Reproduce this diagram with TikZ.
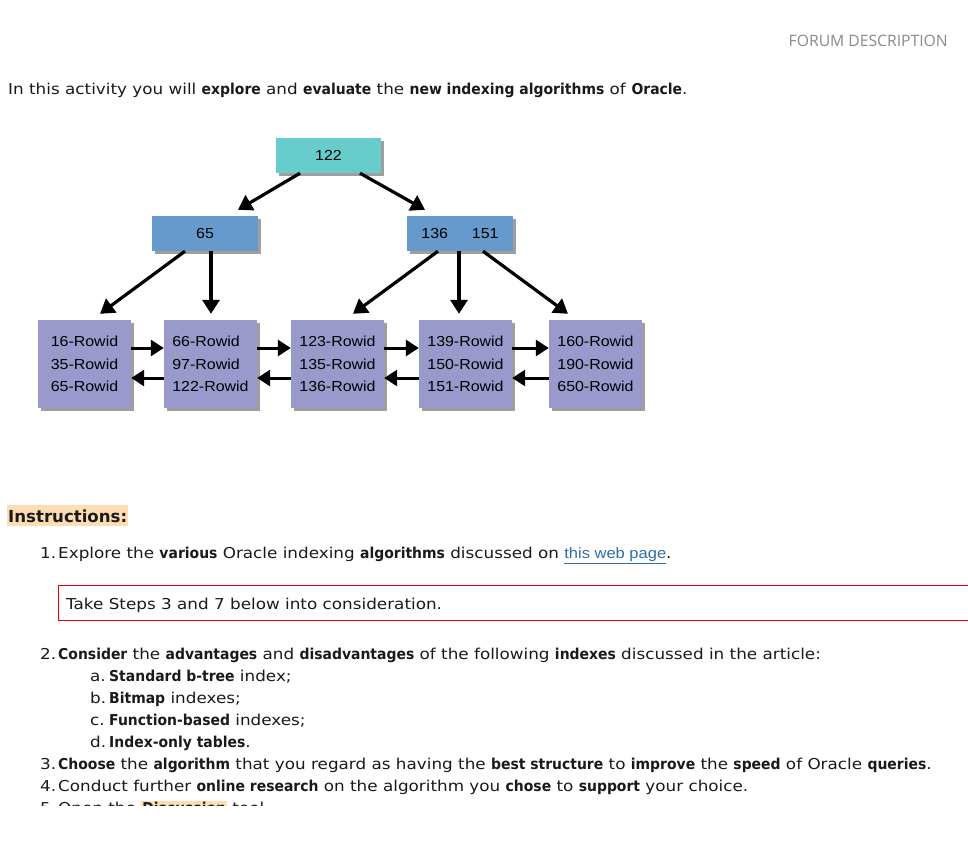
\documentclass[tikz,border=0pt]{standalone}
\usepackage{fontspec}
\setmainfont{DejaVu Sans}[UprightFeatures={FakeStretch=1.12}, BoldFeatures={FakeStretch=0.93}]
\newfontfamily\instrf{DejaVu Sans Bold}
\newfontfamily\arialf{Liberation Sans}[FakeStretch=1.1]
\newfontfamily\osans{Open Sans}
\usetikzlibrary{arrows.meta,shadows}
\definecolor{tealbox}{HTML}{66CCCC}
\definecolor{bluebox}{HTML}{6699CC}
\definecolor{leafbox}{HTML}{9999CC}
\definecolor{peach}{HTML}{FFDDB3}
\definecolor{textc}{HTML}{1A1A1A}
\definecolor{linkc}{HTML}{2F6EA8}
\definecolor{redline}{HTML}{E60000}
\definecolor{headgray}{HTML}{8A8A8A}
\begin{document}
\begin{tikzpicture}[x=1pt,y=-1pt,
  txt/.style={anchor=base west, inner sep=0pt, font=\fontsize{15}{18}\selectfont, text=textc},
  boxbase/.style={draw=none, inner sep=0pt, font=\arialf\fontsize{14.5}{17}\selectfont, text=black,
    drop shadow={shadow xshift=3pt, shadow yshift=-3pt, fill=black, opacity=0.38}},
  topbox/.style={boxbase, fill=tealbox, minimum width=105pt, minimum height=35pt},
  midbox/.style={boxbase, fill=bluebox, minimum width=106pt, minimum height=35pt},
  leaf/.style={boxbase, fill=leafbox, minimum width=93pt, minimum height=88pt, align=left,
    font=\arialf\fontsize{14.5}{22.5}\selectfont},
  arr/.style={line width=3.2pt, -{Triangle[length=14pt,width=17pt]}},
  harr/.style={line width=3pt, -{Triangle[length=13pt,width=16pt]}}
]
\useasboundingbox[fill=white] (0,0) rectangle (968,864);

% header
\node[anchor=base east, inner sep=0pt, font=\osans\fontsize{15.7}{18}\selectfont, text=headgray] (hdr) at (948,47) {FORUM DESCRIPTION};
\node[txt] (intro) at (8,94.5) {In this activity you will \textbf{explore} and \textbf{evaluate} the \textbf{new indexing algorithms} of \textbf{Oracle}.};

% tree
\node[topbox] (root) at (328.5,155.5) {122};
\node[midbox] (n65) at (205,233.5) {65};
\node[midbox] (n136) at (460,233.5) {136\hspace{24pt}151};
\node[leaf] (l1) at (84.5,364) {16-Rowid\\35-Rowid\\65-Rowid};
\node[leaf] (l2) at (210.5,364) {66-Rowid\\97-Rowid\\122-Rowid};
\node[leaf] (l3) at (337.5,364) {123-Rowid\\135-Rowid\\136-Rowid};
\node[leaf] (l4) at (465.5,364) {139-Rowid\\150-Rowid\\151-Rowid};
\node[leaf] (l5) at (595.5,364) {160-Rowid\\190-Rowid\\650-Rowid};

\draw[arr] ([xshift=-28.5pt]root.south) -- ([xshift=33pt,yshift=6pt]n65.north);
\draw[arr] ([xshift=31.5pt]root.south) -- ([xshift=-35pt,yshift=6pt]n136.north);
\draw[arr] ([xshift=-20pt]n65.south) -- ([xshift=15.5pt,yshift=6pt]l1.north);
\draw[arr] ([xshift=6pt]n65.south) -- ([xshift=0.5pt,yshift=6pt]l2.north);
\draw[arr] ([xshift=-22pt]n136.south) -- ([xshift=15.5pt,yshift=6pt]l3.north);
\draw[arr] ([xshift=-1pt]n136.south) -- ([xshift=-6.5pt,yshift=6pt]l4.north);
\draw[arr] ([xshift=23pt]n136.south) -- ([xshift=-27.5pt,yshift=6pt]l5.north);

\foreach \a/\b in {l1/l2,l2/l3,l3/l4,l4/l5}{
  \draw[harr] ([yshift=16pt]\a.east) -- ([yshift=16pt]\b.west);
  \draw[harr] ([yshift=-14pt]\b.west) -- ([yshift=-14pt]\a.east);
}

% instructions
\node[txt, fill=peach, inner xsep=1pt, inner ysep=4pt, anchor=base west, font=\instrf\fontsize{16.6}{19}\selectfont] (instr) at (7,522) {Instructions:};

\node[txt] (m1) at (40,558.5) {1.};
\node[txt] (s1) at (58,558.5) {Explore the \textbf{various} Oracle indexing \textbf{algorithms} discussed on \textcolor{linkc}{\arialf\underline{this web page}}.};
\draw[redline, line width=1pt] (975,585.5) -- (58.5,585.5) -- (58.5,620.5) -- (975,620.5);
\node[txt] (note) at (66,609.5) {Take Steps 3 and 7 below into consideration.};
\node[txt] (m2) at (40,659.5) {2.};
\node[txt] (s2) at (58,659.5) {\textbf{Consider} the \textbf{advantages} and \textbf{disadvantages} of the following \textbf{indexes} discussed in the article:};
\node[txt] (ma) at (90,681.5) {a.};
\node[txt] (sa) at (109,681.5) {\textbf{Standard b-tree} index;};
\node[txt] (mb) at (90,703.5) {b.};
\node[txt] (sb) at (109,703.5) {\textbf{Bitmap} indexes;};
\node[txt] (mc) at (90,725.5) {c.};
\node[txt] (sc) at (109,725.5) {\textbf{Function-based} indexes;};
\node[txt] (md) at (90,747.5) {d.};
\node[txt] (sd) at (109,747.5) {\textbf{Index-only tables}.};
\node[txt] (m3) at (40,769.5) {3.};
\node[txt] (s3) at (58,769.5) {\textbf{Choose} the \textbf{algorithm} that you regard as having the \textbf{best structure} to \textbf{improve} the \textbf{speed} of Oracle \textbf{queries}.};
\node[txt] (m4) at (40,791.5) {4.};
\node[txt] (s4) at (58,791.5) {Conduct further \textbf{online research} on the algorithm you \textbf{chose} to \textbf{support} your choice.};
\begin{scope}
  \clip (0,0) rectangle (968,805);
  \node[txt] (m5) at (40,813.5) {5.};
  \node[txt] (s5) at (58,813.5) {Open the {\setlength{\fboxsep}{1pt}\colorbox{peach}{\textbf{Discussion}}} tool.};
\end{scope}
\end{tikzpicture}
\end{document}
